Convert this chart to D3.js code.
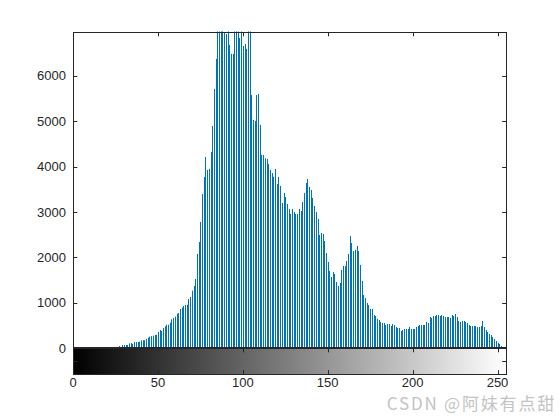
<!DOCTYPE html>
<html><head><meta charset="utf-8">
<script src="https://cdn.jsdelivr.net/npm/d3@7"></script>
<style>body{margin:0;background:#fff}svg{display:block}</style>
</head><body>
<svg id="c" width="560" height="420"></svg>
<script>
// Histogram counts for gray levels 0..255 (values above the axis top are clipped)
const counts = [
 0,0,0,0,0,0,0,0,0,0, 0,0,0,0,0,0,0,0,0,0,
 0,0,0,0,0,0,0,44,22,66, 66,66,66,100,110,88,132,132,132,140,
 170,172,175,200,227,250,262,272,287,292, 353,397,375,441,480,514,514,558,633,660,
 691,757,772,860,890,926,950,955,1081,1125, 1264,1367,1522,2074,2338,2779,3397,3772,4213,3927,
 3949,4324,4897,5714,6376,7600,7300,7050,7500,6950, 6927,7400,6684,6486,6486,7200,7800,7100,6839,7300,
 6662,6706,6596,7100,7400,5581,5030,5008,5581,5603, 4920,4258,4258,4184,4169,4059,3927,3860,3779,3949,
 3618,3772,3574,3199,3419,3331,3177,3066,2956,3066, 3000,2956,2956,3066,3022,3221,3419,3640,3728,3552,
 3485,3309,3133,3000,2846,2493,2537,2515,2360,2096, 1897,1699,1566,1677,1633,1456,1368,1434,1721,1809,
 1809,1919,2074,2471,2316,2140,2162,2250,2140,1831, 1478,1169,1103,993,949,860,860,728,706,640,
 618,574,552,552,507,530,530,485,530,507, 463,441,441,375,397,419,419,419,463,419,
 419,419,463,485,507,507,507,507,574,552, 684,662,706,706,728,728,706,728,706,684,
 684,684,662,728,706,750,684,596,574,596, 596,574,552,507,485,485,485,485,463,463,
 485,596,463,397,353,309,287,243,198,154, 110,88,44,20,0,0
];
const xTicks = [0,50,100,150,200,250];
const yTicks = [0,1000,2000,3000,4000,5000,6000];
const yMax = 6980;
const watermark = "CSDN @阿妹有点甜";

const svg = d3.select("#c");
const L = 73, R = 506, T = 31.5, HB = 348, CB = 374;
const axisCol = "#262626";
const font = "'Liberation Sans', Arial, Helvetica, sans-serif";
const x = d3.scaleLinear().domain([0,255]).range([L,R]);
const y = d3.scaleLinear().domain([0,yMax]).range([HB,T]);

// clip
svg.append("defs").append("clipPath").attr("id","clip")
  .append("rect").attr("x",L).attr("y",T).attr("width",R-L).attr("height",HB-T);

// gradient for colorbar
const grad = svg.select("defs").append("linearGradient").attr("id","gray")
  .attr("x1","0%").attr("x2","100%").attr("y1","0%").attr("y2","0%");
grad.append("stop").attr("offset","0%").attr("stop-color","#000");
grad.append("stop").attr("offset","100%").attr("stop-color","#fff");

// stems
svg.append("g").attr("clip-path","url(#clip)")
  .selectAll("line").data(counts.map((c,i)=>({i,c})).filter(d=>d.c>0)).join("line")
  .attr("x1",d=>Math.round(x(d.i))+0.5).attr("x2",d=>Math.round(x(d.i))+0.5)
  .attr("y1",y(0)).attr("y2",d=>y(d.c))
  .attr("stroke","#0072BD").attr("stroke-width",1);

// histogram axes box
const tl = 4.3;
const g = svg.append("g").attr("stroke",axisCol).attr("stroke-width",1).attr("fill","none");
g.append("rect").attr("x",L+0.5).attr("y",Math.round(T)+0.5).attr("width",R-L).attr("height",HB-Math.round(T));
yTicks.forEach(t=>{
  const yy = Math.round(y(t))+0.5;
  g.append("line").attr("x1",L).attr("x2",L+tl).attr("y1",yy).attr("y2",yy);
  g.append("line").attr("x1",R+0.5).attr("x2",R+0.5-tl).attr("y1",yy).attr("y2",yy);
});
xTicks.forEach(t=>{
  const xx = Math.round(x(t))+0.5;
  g.append("line").attr("x1",xx).attr("x2",xx).attr("y1",Math.round(T)).attr("y2",Math.round(T)+tl);
});

// y tick labels
svg.append("g").selectAll("text").data(yTicks).join("text")
  .attr("x",L-7).attr("y",d=>y(d)).attr("dy","0.35em")
  .attr("text-anchor","end").attr("font-family",font).attr("font-size",13)
  .attr("fill",axisCol).text(d=>d);

// colorbar
svg.append("rect").attr("x",L).attr("y",HB).attr("width",R-L).attr("height",CB-HB)
  .attr("fill","url(#gray)");
const cg = svg.append("g").attr("stroke",axisCol).attr("stroke-width",1).attr("fill","none");
cg.append("rect").attr("x",L+0.5).attr("y",HB+0.5).attr("width",R-L).attr("height",CB-HB);
cg.append("line").attr("x1",L).attr("x2",R+1).attr("y1",HB-0.5).attr("y2",HB-0.5);
xTicks.forEach(t=>{
  const xx = Math.round(x(t))+0.5;
  cg.append("line").attr("x1",xx).attr("x2",xx).attr("y1",HB).attr("y2",HB+tl);
  cg.append("line").attr("x1",xx).attr("x2",xx).attr("y1",CB+0.5).attr("y2",CB+0.5-tl);
});
const mid = Math.round((HB+CB)/2)+0.5;
cg.append("line").attr("x1",L).attr("x2",L+tl).attr("y1",mid).attr("y2",mid);
cg.append("line").attr("x1",R+0.5).attr("x2",R+0.5-tl).attr("y1",mid).attr("y2",mid);

// x tick labels
svg.append("g").selectAll("text").data(xTicks).join("text")
  .attr("x",d=>x(d)).attr("y",387)
  .attr("text-anchor","middle").attr("font-family",font).attr("font-size",13)
  .attr("fill",axisCol).text(d=>d);

// watermark
svg.append("text").attr("x",556).attr("y",410).attr("text-anchor","end")
  .attr("font-family","'Noto Sans CJK SC', 'Noto Sans', sans-serif").attr("font-size",17)
  .attr("letter-spacing","1.8px")
  .attr("fill","#c4c4c4").text(watermark);
</script>
</body></html>
